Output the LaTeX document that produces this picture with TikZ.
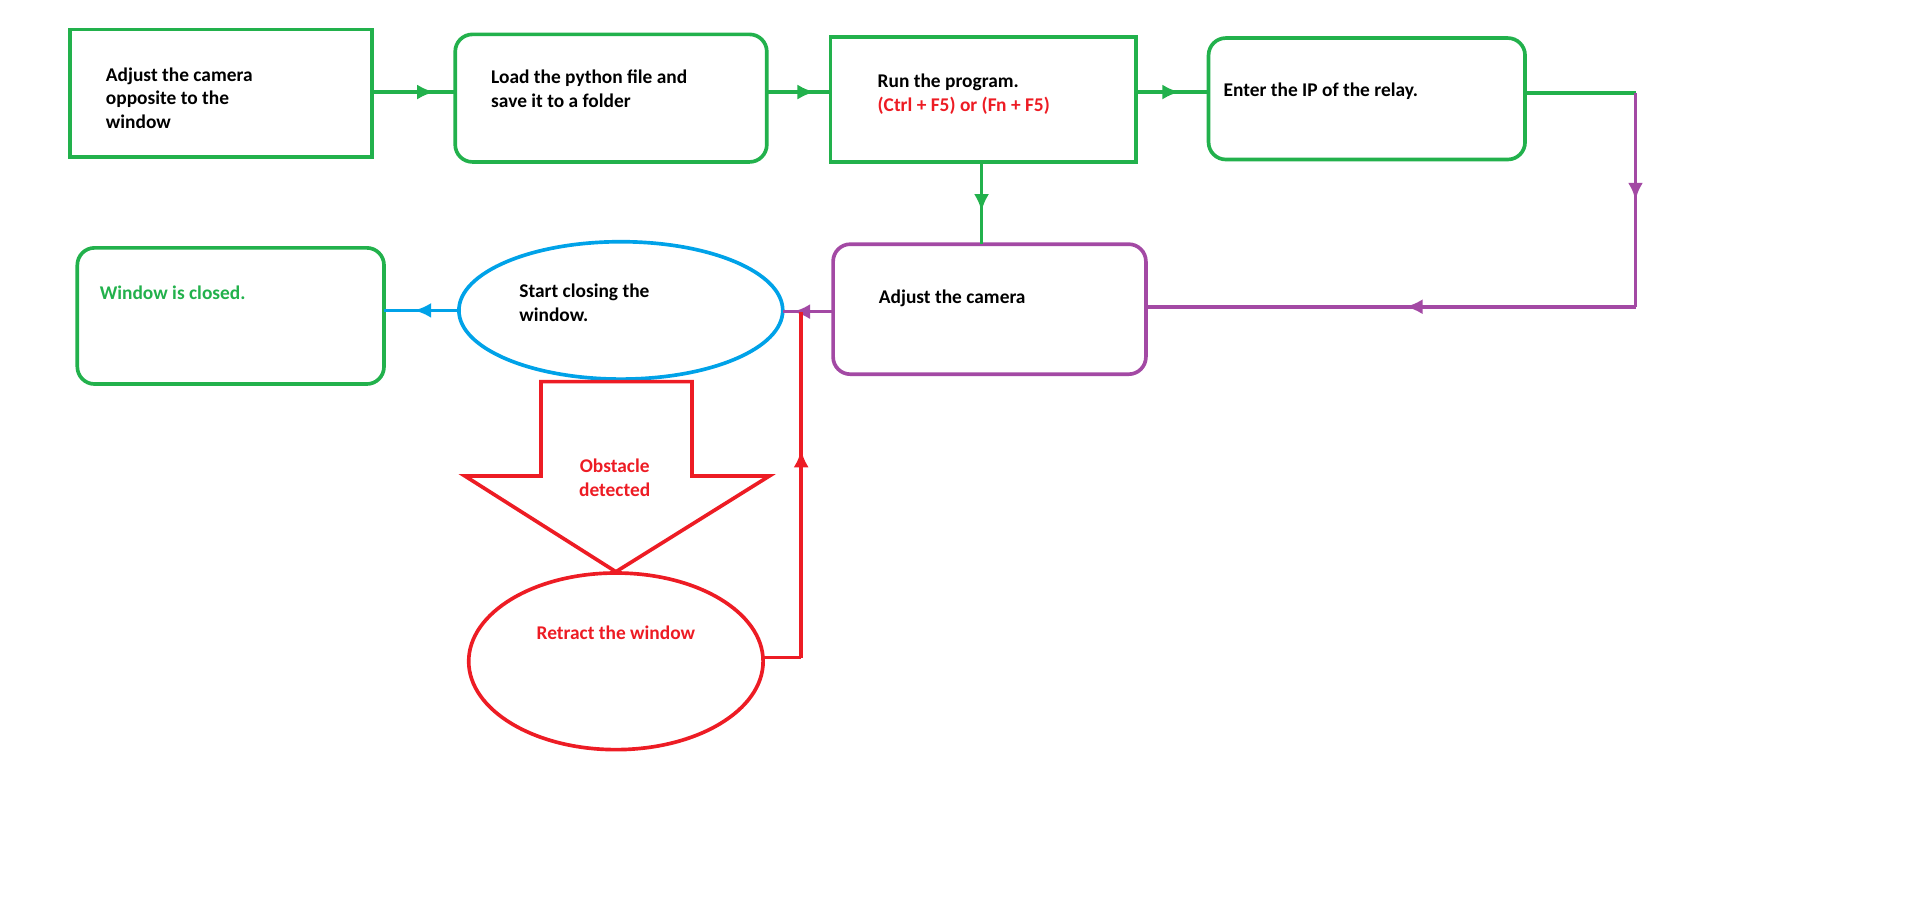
\documentclass[tikz,border=0pt]{standalone}
\usepackage{fontspec}
\setmainfont{Carlito}
\usetikzlibrary{arrows.meta,positioning,shapes.geometric,decorations.markings}
\definecolor{pgreen}{HTML}{22B14C}
\definecolor{ppurple}{HTML}{A349A4}
\definecolor{pblue}{HTML}{00A2E8}
\definecolor{pred}{HTML}{ED1C24}
\begin{document}
\begin{tikzpicture}[x=0.02cm,y=-0.02cm,font=\bfseries\fontsize{9}{11}\selectfont,
	box/.style={draw=pgreen,line width=1.7pt,inner sep=0pt,outer sep=0pt},
	rbox/.style={box,rounded corners=8pt},
	txt/.style={anchor=west,align=left,inner sep=0pt},
	conn/.style={line width=1.7pt},
	mid/.style={postaction={decorate},decoration={markings,mark=at position #1 with {\arrow{Latex[length=8pt,width=7pt]}}}},
	mid/.default=0.5]
		\useasboundingbox (0,0) rectangle (1560,735);
		
		% top row
		\node [box,minimum width=4.92cm,minimum height=2.08cm] (adj) at (180,76) {};
		\node [rbox,minimum width=5.08cm,minimum height=2.08cm] (load) at (498,80) {};
		\node [box,minimum width=4.98cm,minimum height=2.04cm] (run) at (801.5,81) {};
		\node [rbox,minimum width=5.16cm,minimum height=1.98cm] (ip) at (1114,80.5) {};
		
		\node [txt] (adjt) at (86,80) {Adjust the camera\\opposite to the\\window};
		\node [txt] (loadt) at (400,72.5) {Load the python file and\\save it to a folder};
		\node [txt] (runt) at (715,76.5) {Run the program.\\\textcolor{pred}{(Ctrl + F5) or (Fn + F5)}};
		\node [txt] (ipt) at (997,74) {Enter the IP of the relay.};
		
		% second row
		\node [rbox,draw=ppurple,minimum width=5.1cm,minimum height=2.12cm] (cam) at (806.5,252) {};
		\node [txt] (camt) at (716,243) {Adjust the camera};
		\node [draw=pblue,line width=1.7pt,ellipse,inner sep=0pt,outer sep=0pt,minimum width=5.28cm,minimum height=2.24cm] (close) at (506,253) {};
		\node [txt] (closet) at (423,247) {Start closing the\\window.};
		\node [rbox,minimum width=5cm,minimum height=2.22cm] (done) at (188,257.5) {};
		\node [txt,text=pgreen] (donet) at (81,239) {Window is closed.};
		
		% obstacle
		\draw [pred,line width=1.7pt] (441,311) -- (564,311) -- (564,388) -- (627,388) -- (502,466) -- (379,388) -- (441,388) -- cycle;
		\node [align=center,text=pred,inner sep=0pt] (obst) at (501,389.5) {Obstacle\\detected};
		\node [draw=pred,line width=1.7pt,ellipse,inner sep=0pt,outer sep=0pt,minimum width=4.8cm,minimum height=2.88cm] (retr) at (502,539) {};
		\node [text=pred,inner sep=0pt] (retrt) at (502,516) {Retract the window};
		
		\coordinate (c1) at (1333,76);
		\coordinate (c2) at (1333,250);
		\coordinate (c3) at (653,536);
		\coordinate (c4) at (653,254);
		
		% connectors
		\draw [conn,pgreen,mid=0.75] (adj.east |- 0,75) -- (load.west |- 0,75);
		\draw [conn,pgreen,mid=0.75] (load.east |- 0,75) -- (run.west |- 0,75);
		\draw [conn,pgreen,mid=0.6] (run.east |- 0,75) -- (ip.west |- 0,75);
		\draw [conn,pgreen,mid=0.6] (run.south -| 800,0) -- (cam.north -| 800,0);
		\draw [conn,pgreen] (ip.east |- c1) -- (c1);
		\draw [conn,ppurple,mid=0.5] (c1) -- (c2);
		\draw [conn,ppurple,mid=0.47] (c2) -- (cam.east |- c2);
		\draw [conn,ppurple,mid=0.8] (cam.west |- c4) -- (close.east |- c4);
		\draw [conn,pblue,mid=0.6] (close.west) -- (done.east |- close.west);
		\draw [conn,pred] (retr.east |- c3) -- (c3);
		\draw [conn,pred,mid=0.6] (c3) -- (c4);
\end{tikzpicture}
\end{document}
